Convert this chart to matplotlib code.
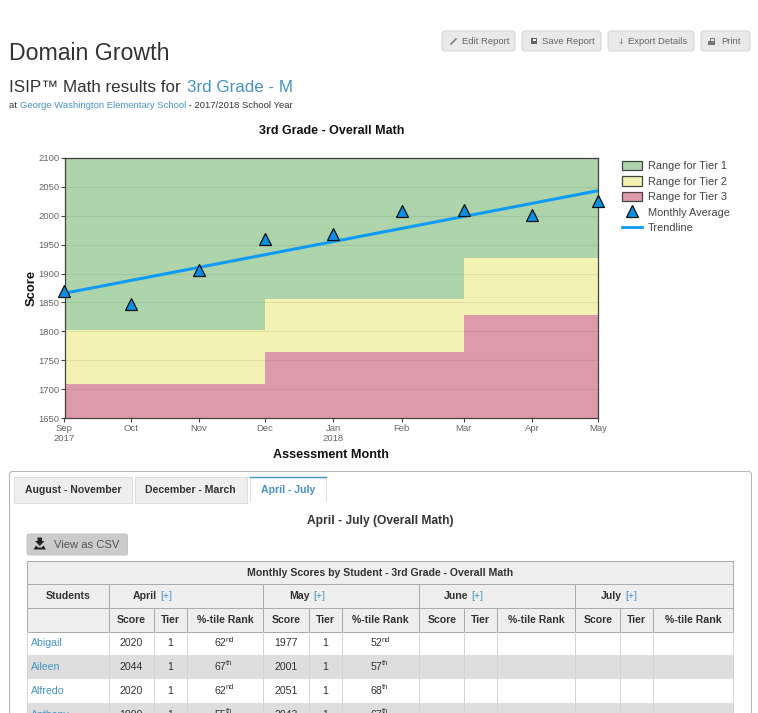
import datetime as dt
import matplotlib
matplotlib.use('Agg')
import matplotlib.pyplot as plt
import matplotlib.dates as mdates
from matplotlib.lines import Line2D
from matplotlib.patches import FancyBboxPatch, Patch, Rectangle, Polygon

plt.rcParams['font.family'] = ['Liberation Sans', 'DejaVu Sans']

# chart data
months = [dt.date(2017, 9, 1), dt.date(2017, 10, 1), dt.date(2017, 11, 1), dt.date(2017, 12, 1),
          dt.date(2018, 1, 1), dt.date(2018, 2, 1), dt.date(2018, 3, 1), dt.date(2018, 4, 1), dt.date(2018, 5, 1)]
month_labels = ['Sep\n2017', 'Oct', 'Nov', 'Dec', 'Jan\n2018', 'Feb', 'Mar', 'Apr', 'May']
tier3_top = [1710, 1710, 1710, 1765, 1765, 1765, 1828, 1828, 1828]
tier2_top = [1802, 1802, 1802, 1856, 1856, 1856, 1927, 1927, 1927]
monthly_avg = [1869, 1847, 1906, 1959, 1969, 2008, 2010, 2001, 2026]
trend_x = [months[0], months[-1]]
trend_y = [1866, 2043]
score_ticks = [1650, 1700, 1750, 1800, 1850, 1900, 1950, 2000, 2050, 2100]

# table data
table_months = ['April', 'May', 'June', 'July']
sub_headers = ['Score', 'Tier', '%-tile Rank']
students = ['Abigail', 'Aileen', 'Alfredo', 'Anthony']
april_score = ['2020', '2044', '2020', '1990']
april_tier = ['1', '1', '1', '1']
april_rank = [('62', 'nd'), ('67', 'th'), ('62', 'nd'), ('55', 'th')]
may_score = ['1977', '2001', '2051', '2043']
may_tier = ['1', '1', '1', '1']
may_rank = [('52', 'nd'), ('57', 'th'), ('68', 'th'), ('67', 'th')]
tabs = ['August - November', 'December - March', 'April - July']
buttons = ['Edit Report', 'Save Report', 'Export Details', 'Print']

W, H = 758, 713
GREEN, YELLOW, RED = '#aed4ab', '#f3f2b2', '#dd9aa8'
LINK = '#4493c3'
DARK = '#333333'
HEAD = '#eeeeee'
PX = 0.72  # one pixel in points

fig = plt.figure(figsize=(W / 100, H / 100), dpi=100, facecolor='white')
renderer = fig.canvas.get_renderer()

# page layer in pixel coordinates
page = fig.add_axes([0, 0, 1, 1])
page.set_xlim(0, W)
page.set_ylim(H, 0)
page.axis('off')


def px(size):
    return size * PX


def chain(x, y, parts, size, gap=0.0):
    # draw text pieces one after the other on a line
    for s, color in parts:
        t = page.text(x, y, s, color=color, fontsize=px(size), va='center', ha='left')
        x += t.get_window_extent(renderer).width
        if s.endswith(' '):
            x += size * gap


def rbox(x0, y0, x1, y1, fc, ec, rad=3, lw=PX, z=1):
    page.add_patch(FancyBboxPatch((x0 + rad, y0 + rad), x1 - x0 - 2 * rad, y1 - y0 - 2 * rad,
                                  boxstyle=f'round,pad={rad},rounding_size={rad}',
                                  fc=fc, ec=ec, lw=lw, zorder=z))


page.text(9, 53, 'Domain Growth', fontsize=px(23.1), color=DARK, va='center')
chain(9, 87.5, [('ISIP™ Math results for ', DARK), ('3rd Grade - M', LINK)], 17, gap=0.1)
chain(9, 105.5, [('at ', DARK), ('George Washington Elementary School', LINK),
                 (' - 2017/2018 School Year', DARK)], 9.5)

# buttons top right
btn_x = [(442, 515), (522, 601), (608, 694), (701, 750)]
btn_right = [509, 595, 687, 741]
for (x0, x1), tx, label in zip(btn_x, btn_right, buttons):
    rbox(x0, 31, x1, 51, '#e9e9e9', '#d4d4d4')
    page.text(tx, 41, label, fontsize=px(9.5), color='#666666', ha='right', va='center', zorder=3)
page.plot([451, 456], [44, 39], color='#777777', lw=1.1, zorder=3)
page.add_patch(Rectangle((531, 38), 6, 6, fc='#666666', ec='none', zorder=3))
page.add_patch(Rectangle((532.5, 39), 3, 1.5, fc='#e9e9e9', ec='none', zorder=3))
page.text(620.5, 41, '↓', family='DejaVu Sans', fontsize=px(8), color='#777777', ha='center', va='center', zorder=3)
page.add_patch(Rectangle((708, 41), 7, 3.5, fc='#777777', ec='none', zorder=3))
page.add_patch(Rectangle((709.5, 38), 4, 3, fc='none', ec='#777777', lw=0.7, zorder=3))

# tab panel, runs off the bottom of the page
rbox(9.5, 471.5, 751.5, 760, 'white', '#b5b5b5', rad=3, z=0.5)

tab_x = [(14, 132), (135, 246.5), (249.5, 326)]
for i, ((x0, x1), label) in enumerate(zip(tab_x, tabs)):
    active = i == 2
    page.add_patch(Rectangle((x0, 476.5), x1 - x0, 26, fc='white' if active else HEAD,
                             ec='#dddddd', lw=PX, zorder=1))
    if active:
        page.plot([x0, x1], [476.5, 476.5], color=LINK, lw=1.0, zorder=2)
        page.plot([x0 + 0.5, x1 - 0.5], [502.5, 502.5], color='white', lw=1.5, zorder=2)
    page.text((x0 + x1) / 2, 490, label, fontsize=px(10.5), fontweight='bold',
              color=LINK if active else DARK, ha='center', va='center', zorder=3)

page.text(380, 521, 'April - July (Overall Math)', fontsize=px(12), fontweight='bold',
          color=DARK, ha='center', va='center')

# csv button
rbox(27, 534, 127.5, 555, '#cbcbcb', '#c4c4c4', rad=2)
page.text(54, 544.5, 'View as CSV', fontsize=px(11.3), color='#555555', va='center', zorder=3)
page.add_patch(Polygon([(37.5, 537.5), (42, 537.5), (42, 541), (44.5, 541), (39.8, 546), (35, 541), (37.5, 541)],
                       fc='#222222', ec='none', zorder=3))
page.add_patch(Polygon([(33.5, 549.5), (36, 545.5), (38, 547.5), (41.5, 547.5), (43.5, 545.5), (46, 549.5)],
                       fc='#222222', ec='none', zorder=3))

# table
col_x = [26.7, 108.7, 153.7, 186.7, 263.3, 308.7, 341.7, 419.3, 464.3, 497.3, 575.3, 620.3, 653.3, 733.3]
row_y = [560.7, 584.3, 608.3, 631.7, 655.3, 679.3, 703, 727]
TBL_LINE = '#ababab'
CELL_LINE = '#d4d4d4'

page.add_patch(Rectangle((col_x[0], row_y[0]), col_x[-1] - col_x[0], row_y[3] - row_y[0], fc=HEAD, ec='none', zorder=1))
for r in range(4):
    fc = 'white' if r % 2 == 0 else '#dedede'
    page.add_patch(Rectangle((col_x[0], row_y[3 + r]), col_x[-1] - col_x[0], row_y[4 + r] - row_y[3 + r], fc=fc, ec='none', zorder=1))

for y in row_y[:4]:
    page.plot([col_x[0], col_x[-1]], [y, y], color=TBL_LINE, lw=PX, zorder=2)
for i, x in enumerate(col_x):
    major = i in (0, 1, 4, 7, 10, 13)
    page.plot([x, x], [row_y[1] if major else row_y[2], row_y[3]], color=TBL_LINE, lw=PX, zorder=2)
    page.plot([x, x], [row_y[3], H + 5], color=CELL_LINE, lw=PX, zorder=2)
page.plot([col_x[0]] * 2, row_y[0:2], color=TBL_LINE, lw=PX, zorder=2)
page.plot([col_x[-1]] * 2, row_y[0:2], color=TBL_LINE, lw=PX, zorder=2)

hfont = dict(fontsize=px(10.5), fontweight='bold', color=DARK, va='center', zorder=3)
page.text((col_x[0] + col_x[-1]) / 2, 572.5, 'Monthly Scores by Student - 3rd Grade - Overall Math',
          ha='center', **hfont)
page.text((col_x[0] + col_x[1]) / 2, 596, 'Students', ha='center', **hfont)

for m, label in enumerate(table_months):
    x0 = col_x[1 + 3 * m]
    # month heading sits over the score and tier columns
    t = page.text(0, 596, label, ha='left', **hfont)
    lw_px = t.get_window_extent(renderer).width
    plus = page.text(0, 596, '[+]', ha='left', fontsize=px(10.5), color=LINK, va='center', zorder=3)
    pw_px = plus.get_window_extent(renderer).width
    start = x0 + 44 - (lw_px + 3 + pw_px) / 2
    t.set_x(start)
    plus.set_x(start + lw_px + 3)
    for c, sub in enumerate(sub_headers):
        cc = (col_x[1 + 3 * m + c] + col_x[2 + 3 * m + c]) / 2
        page.text(cc, 620, sub, ha='center', **hfont)

cell = dict(fontsize=px(10.5), color=DARK, va='center', ha='center', zorder=3)
row_mid = [643.5, 667.3, 691.2, 715]
for r, y in enumerate(row_mid):
    page.text(31, y, students[r], fontsize=px(10.5), color=LINK, va='center', zorder=3)
    page.text((col_x[1] + col_x[2]) / 2, y, april_score[r], **cell)
    page.text((col_x[2] + col_x[3]) / 2, y, april_tier[r], **cell)
    page.text((col_x[4] + col_x[5]) / 2, y, may_score[r], **cell)
    page.text((col_x[5] + col_x[6]) / 2, y, may_tier[r], **cell)
    for rank, a, b in ((april_rank[r], col_x[3], col_x[4]), (may_rank[r], col_x[6], col_x[7])):
        cc = round((a + b) / 2 + 1)
        page.text(cc, y, rank[0], fontsize=px(10.5), color=DARK, va='center', ha='right', zorder=3)
        page.text(cc, y - 3.5, rank[1], fontsize=px(7.5), color=DARK, va='center', ha='left', zorder=3)

# chart
left, right, top, bottom = 64.5, 598, 157.7, 418.3
ax = fig.add_axes([left / W, 1 - bottom / H, (right - left) / W, (bottom - top) / H])
ax.fill_between(months, 1650, tier3_top, step='post', color=RED, lw=0, zorder=1)
ax.fill_between(months, tier3_top, tier2_top, step='post', color=YELLOW, lw=0, zorder=1)
ax.fill_between(months, tier2_top, 2100, step='post', color=GREEN, lw=0, zorder=1)
ax.grid(True, axis='y', color='black', alpha=0.07, lw=0.8, zorder=2)
ax.set_axisbelow(False)
ax.plot(trend_x, trend_y, color='#0f9bf5', lw=2.2, zorder=3)
ax.plot(months, monthly_avg, ls='none', marker='^', ms=8, mfc='#0a8fe6', mec='#111111', mew=0.9,
        clip_on=False, zorder=4)
ax.set_xlim(months[0], months[-1])
ax.set_ylim(1650, 2100)
ax.set_yticks(score_ticks)
ax.set_xticks([mdates.date2num(m) for m in months])
ax.set_xticklabels(month_labels, linespacing=1.15)
ax.tick_params(axis='both', labelsize=px(9.5), labelcolor='#666666', color='#444444', length=3, width=0.8)
ax.tick_params(axis='y', pad=0.8)
ax.tick_params(axis='x', pad=1.2)
for s in ax.spines.values():
    s.set_color('#444444')
    s.set_linewidth(0.9)
ax.set_title('3rd Grade - Overall Math', fontsize=px(12.5), fontweight='bold', color='#111111', pad=17)
ax.set_xlabel('Assessment Month', fontsize=px(12.6), fontweight='bold', color='#111111', labelpad=4.5)
ax.set_ylabel('Score', fontsize=px(13), fontweight='bold', color='#111111', labelpad=0.5)

handles = [Patch(fc=GREEN, ec='#444444', lw=0.9), Patch(fc=YELLOW, ec='#444444', lw=0.9), Patch(fc=RED, ec='#444444', lw=0.9),
           Line2D([], [], ls='none', marker='^', ms=8, mfc='#0a8fe6', mec='#111111', mew=0.9),
           Line2D([], [], color='#0f9bf5', lw=2)]
labels = ['Range for Tier 1', 'Range for Tier 2', 'Range for Tier 3', 'Monthly Average', 'Trendline']
leg = fig.legend(handles, labels, loc='upper left', bbox_to_anchor=(621.5 / W, 1 - 161 / H), frameon=False,
                 fontsize=px(11), handlelength=1.9, handleheight=0.9, handletextpad=0.5,
                 labelspacing=0.46, borderpad=0, borderaxespad=0)
for t in leg.get_texts():
    t.set_color('#444444')

fig.savefig('out.png', dpi=100, facecolor='white')
